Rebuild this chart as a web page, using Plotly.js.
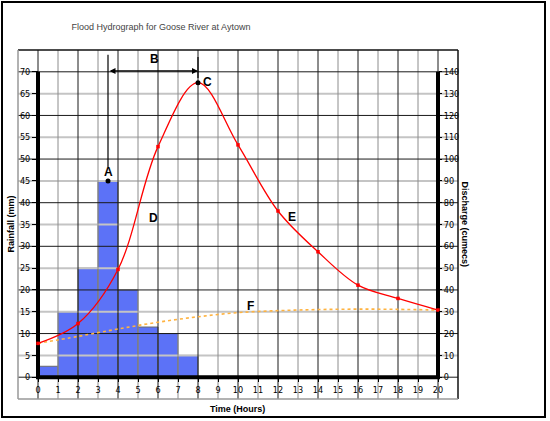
<!DOCTYPE html>
<html>
<head>
<meta charset="utf-8">
<script src="https://cdn.plot.ly/plotly-3.0.1.min.js"></script>
<style>
  html, body { margin: 0; padding: 0; background: #fff; }
  #wrap { position: relative; width: 550px; height: 421px; }
  #chart { position: absolute; left: 0; top: 0; width: 550px; height: 421px; }
  #frame { position: absolute; left: 1px; top: 1px; width: 541px; height: 413px;
           border: 2px solid #000; pointer-events: none; }
</style>
</head>
<body>
<div id="wrap"><div id="chart"></div><div id="frame"></div></div>
<script>
// ---------- data ----------
const chartTitle = 'Flood Hydrograph for Goose River at Aytown';
const rainHours = [0, 1, 2, 3, 4, 5, 6, 7];               // start of each hourly interval
const rainfallMm = [2.5, 15, 25, 45, 20, 11.5, 10, 5];     // rainfall (mm)
const qHours = [0, 2, 4, 6, 8, 10, 12, 14, 16, 18, 20];    // time (hours)
const dischargeCumecs = [15.5, 24.6, 49.4, 105.7, 135, 106.5, 76.2, 57.5, 42.2, 36.1, 30.8];
const baseflowCumecs = [15.5, 18.7, 22.1, 25.2, 27.7, 29.6, 30.5, 31.0, 31.2, 31.1, 30.8];
const hourTicks = [0,1,2,3,4,5,6,7,8,9,10,11,12,13,14,15,16,17,18,19,20];
const rainTicks = [0,5,10,15,20,25,30,35,40,45,50,55,60,65,70];
const dischargeTicks = [0,10,20,30,40,50,60,70,80,90,100,110,120,130,140];
const pointLabels = ['A', 'B', 'C', 'D', 'E', 'F'];

// ---------- grid (one cell beyond the axes on every side) ----------
const xLo = hourTicks[0] - 1, xHi = hourTicks[hourTicks.length - 1] + 1;
const yLo = rainTicks[0] - 5, yHi = rainTicks[rainTicks.length - 1] + 5;

function segs(list) {
  const xs = [], ys = [];
  list.forEach(s => { xs.push(s[0], s[2], null); ys.push(s[1], s[3], null); });
  return {xs, ys};
}
const vDark = [], vLight = [], hDark = [], hLight = [];
for (let x = xLo + 1; x < xHi; x++) {
  (x % 2 === 0 ? vDark : vLight).push([x, yLo, x, yHi]);
}
for (let y = yLo + 5; y < yHi; y += 5) {
  (y % 10 === 0 ? hDark : hLight).push([xLo, y, xHi, y]);
}
function gridTrace(list, color, width) {
  const s = segs(list);
  return {x: s.xs, y: s.ys, xaxis: 'x', yaxis: 'y', type: 'scatter', mode: 'lines',
          line: {color: color, width: width}, hoverinfo: 'skip', showlegend: false};
}

// peaks (for the lag-time construction)
const iRain = rainfallMm.indexOf(Math.max(...rainfallMm));
const peakRainX = rainHours[iRain] + 0.5, peakRain = rainfallMm[iRain];
const iQ = dischargeCumecs.indexOf(Math.max(...dischargeCumecs));
const peakQX = qHours[iQ], peakQ = dischargeCumecs[iQ];
const rainTop = rainTicks[rainTicks.length - 1];
const hMin = hourTicks[0], hMax = hourTicks[hourTicks.length - 1];

const traces = [
  {type: 'bar', x: rainHours, y: rainfallMm, offset: 0, width: 1,
   marker: {color: 'rgb(92,114,247)', line: {color: '#6a6a6a', width: 1}},
   xaxis: 'x', yaxis: 'y', hoverinfo: 'x+y', showlegend: false},
  gridTrace(hLight, '#c4c4c4', 2),
  gridTrace(vLight, '#8c8c8c', 1),
  gridTrace(vDark, '#1a1a1a', 1),
  gridTrace(hDark, '#1a1a1a', 1),
  {type: 'scatter', mode: 'lines', x: [hMin, hMin, hMax, hMax], y: [rainTop, 0, 0, rainTop],
   line: {color: '#000', width: 4}, xaxis: 'x', yaxis: 'y', hoverinfo: 'skip', showlegend: false},
  {type: 'scatter', mode: 'markers', x: [peakRainX], y: [peakRain],
   marker: {color: '#000', size: 5}, xaxis: 'x', yaxis: 'y', hoverinfo: 'skip', showlegend: false},
  {type: 'scatter', mode: 'lines', x: qHours, y: baseflowCumecs, xaxis: 'x', yaxis: 'y2',
   line: {color: '#ffb340', width: 1.6, dash: 'dot', shape: 'spline', smoothing: 1},
   showlegend: false},
  {type: 'scatter', mode: 'lines+markers', x: qHours, y: dischargeCumecs, xaxis: 'x', yaxis: 'y2',
   line: {color: '#ff0000', width: 1.3, shape: 'spline', smoothing: 1},
   marker: {color: '#ff0000', size: 3.5, symbol: 'square'}, showlegend: false},
  {type: 'scatter', mode: 'markers', x: [peakQX], y: [peakQ], xaxis: 'x', yaxis: 'y2',
   marker: {color: '#000', size: 5}, hoverinfo: 'skip', showlegend: false}
];

const tickFont = {family: 'Liberation Sans Narrow, DejaVu Sans Condensed, Arial, sans-serif', size: 9, color: '#000'};
const lblFont = {family: 'Liberation Sans, Arial, sans-serif', size: 12, color: '#000', weight: 'bold'};
const axFont = {family: 'Liberation Sans, Arial, sans-serif', size: 9, color: '#000', weight: 'bold'};

function lbl(text, x, y) {
  return {text: text, x: x, y: y, xref: 'x', yref: 'y', showarrow: false, font: lblFont,
          xanchor: 'center', yanchor: 'middle'};
}

const layout = {
  width: 550, height: 421,
  margin: {l: 18, r: 92, t: 50, b: 22, pad: 0},
  paper_bgcolor: '#fff', plot_bgcolor: '#fff',
  title: {text: chartTitle, x: 161 / 550, xanchor: 'center', y: 1 - 27 / 421, yanchor: 'middle',
          font: {family: 'Liberation Sans, Arial, sans-serif', size: 9, color: '#444'}},
  showlegend: false,
  xaxis: {range: [xLo, xHi], anchor: 'free', position: (0 - yLo) / (yHi - yLo),
          tickmode: 'array', tickvals: hourTicks, ticktext: hourTicks.map(String),
          ticks: 'outside', ticklen: 4, tickcolor: '#000', showgrid: false, zeroline: false,
          showline: false, tickfont: tickFont, fixedrange: true},
  yaxis: {range: [yLo, yHi], anchor: 'free', position: (0 - xLo) / (xHi - xLo), side: 'left',
          tickmode: 'array', tickvals: rainTicks, ticktext: rainTicks.map(String),
          ticks: 'outside', ticklen: 6, tickcolor: '#000', showgrid: false, zeroline: false,
          showline: false, tickfont: tickFont, fixedrange: true},
  yaxis2: {range: [yLo * 2, yHi * 2], overlaying: 'y', anchor: 'free',
           position: (hMax - xLo) / (xHi - xLo), side: 'right',
           tickmode: 'array', tickvals: dischargeTicks, ticktext: dischargeTicks.map(String),
           ticks: 'outside', ticklen: 3, tickcolor: '#000', showgrid: false, zeroline: false,
           showline: false, tickfont: tickFont, fixedrange: true},
  shapes: [
    {type: 'line', xref: 'paper', yref: 'paper', x0: 0, x1: 1, y0: 1, y1: 1, line: {color: '#111', width: 1.5}},
    {type: 'line', xref: 'paper', yref: 'paper', x0: 1, x1: 1, y0: 0, y1: 1, line: {color: '#111', width: 1.5}},
    {type: 'line', xref: 'paper', yref: 'paper', x0: 0, x1: 0, y0: 0, y1: 1, line: {color: '#999', width: 1.5}},
    {type: 'line', xref: 'paper', yref: 'paper', x0: 0, x1: 1, y0: 0, y1: 0, line: {color: '#999', width: 1.5}},
    // lag-time construction lines
    {type: 'line', xref: 'x', yref: 'y', x0: peakRainX, x1: peakRainX, y0: peakRain + 3.2, y1: rainTop + 3.9,
     line: {color: '#000', width: 1.2}},
    {type: 'line', xref: 'x', yref: 'y', x0: peakQX, x1: peakQX, y0: rainTop - 1.4, y1: rainTop + 3.4,
     line: {color: '#000', width: 1.2}}
  ],
  annotations: [
    {x: peakQX, y: rainTop + 0.2, ax: peakRainX, ay: rainTop + 0.2, xref: 'x', yref: 'y',
     axref: 'x', ayref: 'y', text: '', showarrow: true, arrowhead: 2, arrowside: 'end+start',
     arrowsize: 1, arrowwidth: 1.2, arrowcolor: '#000', standoff: 0, startstandoff: 0},
    lbl(pointLabels[0], peakRainX, peakRain + 2),
    lbl(pointLabels[1], (peakRainX + peakQX) / 2 + 0.05, rainTop + 2.9),
    lbl(pointLabels[2], peakQX + 0.47, 67.6),
    lbl(pointLabels[3], 5.75, 36.5),
    lbl(pointLabels[4], 12.7, 36.7),
    lbl(pointLabels[5], 10.6, 16.3),
    {text: 'Rainfall (mm)', xref: 'paper', yref: 'paper', x: (10 - 18) / 440, y: 0.5,
     textangle: -90, showarrow: false, font: axFont, xanchor: 'center', yanchor: 'middle'},
    {text: 'Discharge (cumecs)', xref: 'paper', yref: 'paper', x: (465 - 18) / 440, y: 0.5,
     textangle: 90, showarrow: false, font: axFont, xanchor: 'center', yanchor: 'middle'},
    {text: 'Time (Hours)', xref: 'paper', yref: 'paper', x: (237 - 18) / 440, y: (399 - 409) / 349,
     showarrow: false, font: axFont, xanchor: 'center', yanchor: 'middle'}
  ]
};

Plotly.newPlot('chart', traces, layout, {displayModeBar: false, staticPlot: true});
</script>
</body>
</html>
